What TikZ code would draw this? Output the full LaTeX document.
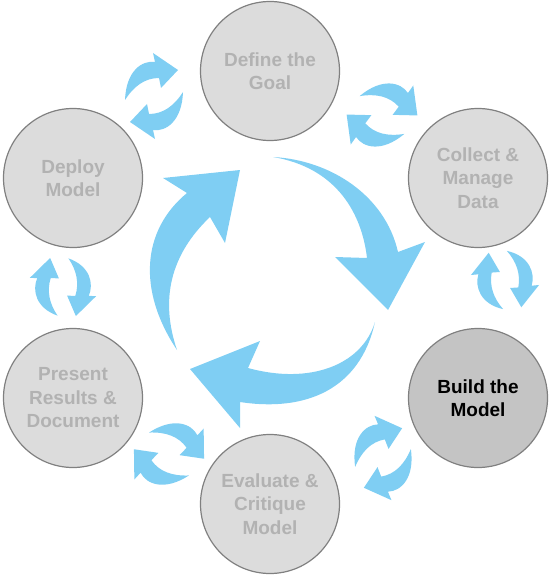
\documentclass[tikz,border=0pt]{standalone}
\usepackage{fontspec}
\setmainfont{Liberation Sans}
\definecolor{cycblue}{RGB}{127,206,243}
\definecolor{stagefill}{RGB}{220,220,220}
\definecolor{stageline}{RGB}{128,128,128}
\definecolor{stagetext}{RGB}{178,178,178}
\definecolor{activefill}{RGB}{196,196,196}
\newcommand\halfcyclepath{(-29,4) .. controls (-28,-25) and (-12,-36) .. (1,-34) -- (-1,-43) -- (24,-26) -- (7,-8) -- (5,-18) .. controls (-9,-18) and (-20,-10) .. cycle}
\tikzset{
  cyc/.style={fill=cycblue, draw=none},
  stage/.style={circle, draw=stageline, line width=1.2pt, fill=stagefill, minimum size=139pt, inner sep=0pt,
    align=center, text=stagetext, font=\fontsize{19}{23.5}\selectfont\bfseries},
  activestage/.style={stage, fill=activefill, text=black},
  minicycle/.pic={
    \fill[cyc] \halfcyclepath;
    \fill[cyc, rotate=180] \halfcyclepath;
  }
}
\begin{document}
\begin{tikzpicture}[x=1pt, y=-1pt]
\useasboundingbox (0,0) rectangle (550,575);
% big central arrows
\fill[cyc] (273,157) .. controls (330,160) and (385,195) .. (398,252) -- (425,242) -- (388,310) -- (335,257) -- (367,258) .. controls (362,215) and (338,168) .. cycle;
\fill[cyc] (375,322) .. controls (360,390) and (305,412) .. (240,402) -- (240,428) -- (190,369) -- (260,341) -- (248,368) .. controls (310,385) and (362,365) .. cycle;
\fill[cyc] (177,350) .. controls (137,290) and (142,230) .. (187,193) -- (163,178) -- (240,170) -- (225,243) -- (210,217) .. controls (170,255) and (160,300) .. cycle;
% small paired arrows
\pic at (154,96) {minicycle};
\pic[rotate=-48] at (382,115) {minicycle};
\pic[rotate=80, yscale=0.8] at (505,280) {minicycle};
\pic[rotate=10] at (383,458) {minicycle};
\pic[rotate=-55] at (169,454) {minicycle};
\pic[rotate=73, yscale=0.8] at (63,287) {minicycle};
% stages
\node[stage] (define) at (270,71) {Define the\\Goal};
\node[stage] (collect) at (478,178) {Collect \&\\Manage\\Data};
\node[activestage] (build) at (478,398) {Build the\\Model};
\node[stage] (evaluate) at (270,504) {Evaluate \&\\Critique\\Model};
\node[stage] (present) at (73,398) {Present\\Results \&\\Document};
\node[stage] (deploy) at (73,178) {Deploy\\Model};
\end{tikzpicture}
\end{document}
